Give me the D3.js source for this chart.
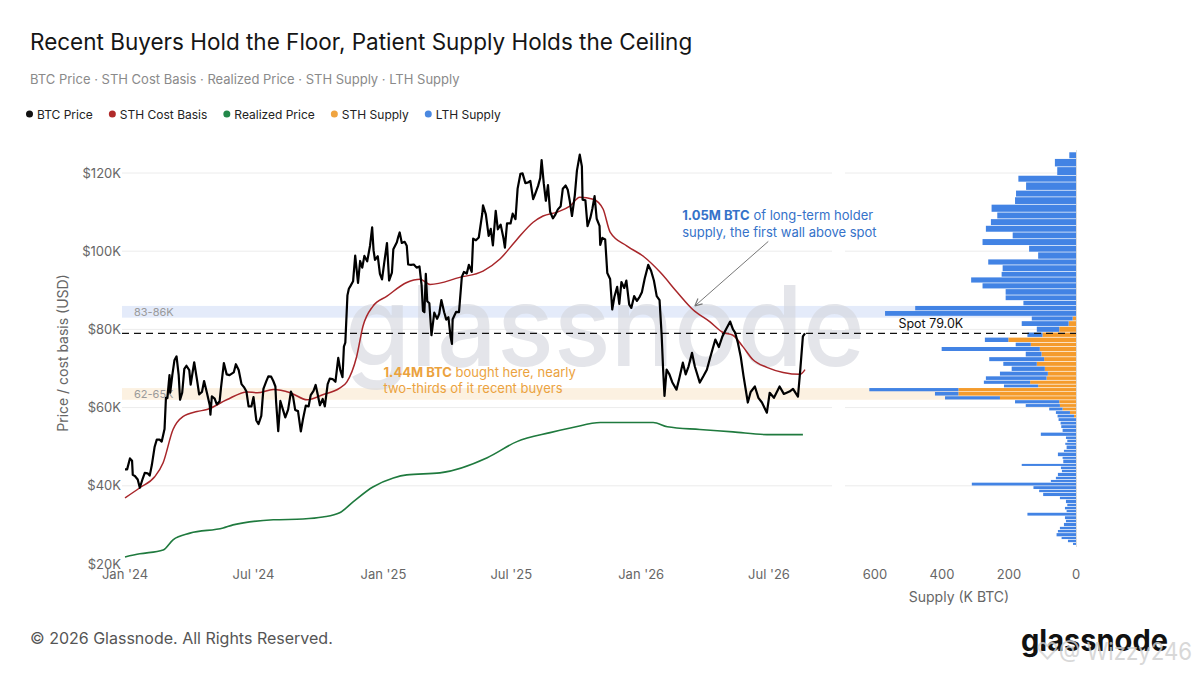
<!DOCTYPE html>
<html><head><meta charset="utf-8">
<script src="https://cdn.jsdelivr.net/npm/d3@7"></script>
<style>
body{margin:0;background:#fff;}
svg{font-family:Inter,"Noto Sans",sans-serif;}
</style>
</head><body>
<svg id="c" width="1200" height="675"></svg>
<script>
// ---------- DATA ----------
const priceDates = ["2024-01-01","2024-01-04","2024-01-08","2024-01-11","2024-01-12","2024-01-15","2024-01-19","2024-01-22","2024-01-26","2024-01-29","2024-02-02","2024-02-05","2024-02-08","2024-02-12","2024-02-15","2024-02-19","2024-02-22","2024-02-26","2024-02-28","2024-03-01","2024-03-04","2024-03-05","2024-03-08","2024-03-11","2024-03-14","2024-03-17","2024-03-19","2024-03-22","2024-03-25","2024-03-28","2024-04-01","2024-04-03","2024-04-08","2024-04-12","2024-04-15","2024-04-19","2024-04-22","2024-04-26","2024-04-30","2024-05-01","2024-05-03","2024-05-07","2024-05-10","2024-05-14","2024-05-16","2024-05-20","2024-05-24","2024-05-28","2024-06-03","2024-06-06","2024-06-10","2024-06-14","2024-06-18","2024-06-21","2024-06-24","2024-06-28","2024-07-01","2024-07-05","2024-07-08","2024-07-12","2024-07-15","2024-07-19","2024-07-22","2024-07-26","2024-07-29","2024-08-01","2024-08-02","2024-08-05","2024-08-08","2024-08-12","2024-08-15","2024-08-19","2024-08-23","2024-08-26","2024-08-29","2024-09-02","2024-09-06","2024-09-09","2024-09-13","2024-09-17","2024-09-20","2024-09-24","2024-09-27","2024-09-30","2024-10-03","2024-10-07","2024-10-10","2024-10-14","2024-10-17","2024-10-21","2024-10-25","2024-10-29","2024-11-01","2024-11-04","2024-11-06","2024-11-08","2024-11-11","2024-11-13","2024-11-15","2024-11-19","2024-11-22","2024-11-26","2024-11-29","2024-12-02","2024-12-05","2024-12-09","2024-12-13","2024-12-16","2024-12-18","2024-12-20","2024-12-24","2024-12-27","2024-12-30",
"2025-01-02","2025-01-06","2025-01-09","2025-01-13","2025-01-15","2025-01-20","2025-01-22","2025-01-24","2025-01-27","2025-01-31","2025-02-03","2025-02-05","2025-02-09","2025-02-13","2025-02-17","2025-02-21","2025-02-24","2025-02-26","2025-02-28","2025-03-02","2025-03-04","2025-03-07","2025-03-10","2025-03-14","2025-03-18","2025-03-21","2025-03-24","2025-03-28","2025-03-31","2025-04-03","2025-04-06","2025-04-08","2025-04-09","2025-04-14","2025-04-18","2025-04-22","2025-04-25","2025-04-29","2025-05-02","2025-05-06","2025-05-08","2025-05-12","2025-05-16","2025-05-21","2025-05-22","2025-05-26","2025-05-30","2025-06-02","2025-06-05","2025-06-09","2025-06-12","2025-06-16","2025-06-20","2025-06-22","2025-06-25","2025-06-30","2025-07-03","2025-07-07","2025-07-10","2025-07-14","2025-07-17","2025-07-21","2025-07-25","2025-07-28","2025-08-01","2025-08-03","2025-08-08","2025-08-11","2025-08-13","2025-08-16","2025-08-19","2025-08-22","2025-08-25","2025-08-29","2025-09-01","2025-09-05","2025-09-09","2025-09-12","2025-09-16","2025-09-19","2025-09-22","2025-09-25","2025-09-29","2025-10-02","2025-10-06","2025-10-09","2025-10-10","2025-10-14","2025-10-17","2025-10-21","2025-10-24","2025-10-27","2025-10-30","2025-11-03","2025-11-04","2025-11-07","2025-11-11","2025-11-14","2025-11-18","2025-11-21","2025-11-24","2025-11-28","2025-12-01","2025-12-04","2025-12-08","2025-12-11","2025-12-15","2025-12-18","2025-12-22","2025-12-26","2025-12-30",
"2026-01-02","2026-01-06","2026-01-11","2026-01-15","2026-01-19","2026-01-23","2026-01-27","2026-01-30","2026-02-01","2026-02-03","2026-02-06","2026-02-10","2026-02-14","2026-02-20","2026-02-24","2026-03-01","2026-03-05","2026-03-09","2026-03-14","2026-03-18","2026-03-25","2026-03-30","2026-04-04","2026-04-09","2026-04-16","2026-04-21","2026-04-26","2026-05-01","2026-05-07","2026-05-11","2026-05-14","2026-05-18","2026-05-22","2026-05-26","2026-06-01","2026-06-05","2026-06-11","2026-06-16","2026-06-21","2026-06-28","2026-07-02","2026-07-08","2026-07-16","2026-07-22","2026-07-30","2026-08-04","2026-08-11","2026-08-14","2026-08-18","2026-08-21"];
const priceValues = [44.2,44.2,47.0,46.4,42.8,42.5,41.6,39.5,41.8,43.3,43.2,42.6,45.3,50.0,51.8,51.8,51.3,54.5,62.5,62.4,68.3,63.8,68.3,72.1,73.1,68.4,62.0,63.8,69.9,70.7,69.6,65.9,71.6,67.1,63.4,64.0,66.8,63.8,60.6,58.2,62.9,62.3,60.8,61.6,65.2,71.4,68.5,68.3,69.0,71.1,69.6,66.0,65.1,64.1,60.3,60.3,62.7,56.7,55.8,57.9,64.8,66.7,68.0,67.9,66.8,65.4,61.5,54.0,61.7,59.3,57.5,59.5,64.1,62.8,59.4,59.1,53.9,57.0,60.5,60.3,63.2,64.3,65.8,63.3,60.6,62.2,60.3,66.0,67.4,67.3,66.6,72.7,69.5,67.8,75.6,76.6,88.7,90.4,91.0,92.3,98.9,91.9,97.5,95.8,98.8,97.4,101.4,106.1,100.2,97.8,98.7,94.2,92.8,
96.9,102.1,92.5,94.5,100.5,102.3,103.7,104.8,102.1,102.4,101.4,96.6,96.5,96.6,95.8,96.1,91.4,84.7,84.4,94.2,87.2,86.7,78.5,84.3,82.7,84.0,87.5,84.4,82.5,83.1,78.2,76.3,82.6,84.5,84.4,93.4,94.7,94.3,96.5,94.7,103.2,102.8,103.5,109.7,111.7,109.4,103.9,105.7,101.5,110.3,105.6,106.8,103.3,100.9,107.1,107.1,109.6,108.2,116.0,119.8,119.9,117.4,117.6,118.0,113.3,114.2,116.7,118.7,123.3,117.4,112.9,116.9,110.1,108.4,109.2,110.7,111.5,116.0,116.8,115.7,112.7,109.0,114.3,120.6,124.7,121.7,113.2,113.0,106.4,108.5,111.0,114.1,108.3,106.5,101.6,103.4,103.0,94.4,92.9,85.1,88.3,90.9,86.5,92.1,90.6,92.5,86.4,85.5,88.5,87.3,88.4,
89.5,93.0,96.5,95.0,92.5,88.5,87.5,78.5,70.0,63.0,69.7,68.5,66.5,64.6,67.5,71.5,68.5,70.5,74.0,70.5,66.4,68.0,69.7,73.0,77.4,75.5,78.2,80.0,82.0,80.0,79.2,76.5,73.0,68.0,61.3,64.0,65.4,62.5,61.3,58.7,63.8,62.5,65.4,63.5,64.1,64.8,62.8,69.0,78.2,79.0];

const sthDates = ["2024-01-01","2024-01-22","2024-02-12","2024-02-24","2024-03-09","2024-03-23","2024-04-12","2024-04-26","2024-05-24","2024-06-22","2024-07-06","2024-07-29","2024-08-22","2024-09-15","2024-10-07","2024-10-31","2024-11-10","2024-11-24","2024-12-03","2024-12-17","2025-01-06","2025-02-03","2025-02-22","2025-03-08","2025-04-19","2025-05-22","2025-06-15","2025-07-09","2025-08-01","2025-08-15","2025-09-04","2025-09-22","2025-10-06","2025-10-25","2025-11-08","2025-11-18","2025-12-12","2026-01-04","2026-01-28","2026-02-21","2026-03-15","2026-04-08","2026-04-27","2026-05-11","2026-05-25","2026-06-08","2026-06-28","2026-07-21","2026-08-14","2026-08-21"];
const sthValues = [36.9,39.5,42.3,45.9,54.4,57.7,59.0,59.5,62.0,64.0,63.8,64.6,63.8,62.0,63.3,65.0,66.5,73.0,80.8,85.9,88.5,92.0,92.8,91.5,93.3,94.9,98.0,103.0,107.4,109.0,110.0,111.5,113.8,113.3,110.8,104.9,101.3,98.7,94.6,89.5,85.1,82.0,79.2,78.5,75.6,72.3,70.3,69.0,68.5,69.7];

const realizedDates = ["2024-01-01","2024-01-22","2024-02-24","2024-03-09","2024-04-02","2024-05-19","2024-06-02","2024-07-29","2024-09-09","2024-10-07","2024-10-31","2024-11-19","2024-12-17","2025-01-15","2025-02-03","2025-03-22","2025-05-28","2025-07-09","2025-08-25","2025-09-26","2025-11-04","2025-11-22","2026-01-18","2026-02-07","2026-03-25","2026-05-11","2026-06-28","2026-08-18"];
const realizedValues = [21.8,22.6,23.6,26.2,27.9,29.2,30.0,31.3,31.5,32.0,33.1,35.9,39.7,42.0,42.8,43.3,47.2,51.3,53.6,54.9,56.2,56.2,56.2,55.1,54.4,53.8,53.1,53.1];

// supply distribution by price bin (edges in $K, supply in K BTC)
const binEdges = [125.3,123.6,121.5,119.3,117.6,115.5,113.8,111.9,109.9,108.2,106.5,104.8,103.1,101.4,99.7,97.9,96.4,94.7,93.3,91.8,90.3,88.7,87.3,86.0,84.7,83.3,82.1,80.7,79.2,77.9,76.6,75.5,74.3,72.9,71.7,70.5,69.2,68.0,66.9,65.9,65.0,64.0,62.9,61.9,60.9,60.0,59.1,58.2,57.3,56.4,55.5,54.6,53.6,52.6,51.8,51.0,50.3,49.2,48.5,47.4,46.7,45.6,44.9,44.1,43.3,42.3,41.5,40.8,39.9,39.0,38.2,37.2,36.4,35.4,34.6,33.8,33.1,32.2,31.3,30.5,29.5,28.7,27.9,26.9,26.2,25.4,24.7];
const sthSupply = [0,0,0,0,0,0,0,0,0,0,0,0,0,0,0,0,0,0,0,0,0,0,0,0,0,10,22,50,100,202,135,108,103,95,117,93,84,88,137,113,351,351,227,50,48,40,18,6,0,0,0,0,0,0,0,0,0,0,0,0,0,0,0,0,0,0,0,0,0,0,0,0,0,0,0,0,0,0,0,0,0,0,0,0,0,0];
const lthSupply = [20,63,56,172,149,179,182,252,235,254,269,189,279,140,113,262,219,222,313,279,210,210,157,480,570,122,140,67,45,70,45,293,47,164,100,99,143,181,138,102,266,70,164,132,102,40,42,49,52,46,44,40,105,30,26,32,28,36,54,40,38,162,45,42,54,60,75,311,127,110,98,48,30,26,33,28,145,33,30,36,48,54,58,43,24,9];

const yTicks = [20000,40000,60000,80000,100000,120000];
const yTickLabels = ["$20K","$40K","$60K","$80K","$100K","$120K"];
const xTicks = ["2024-01-01","2024-07-01","2025-01-01","2025-07-01","2026-01-01","2026-07-01"];
const xTickLabels = ["Jan '24","Jul '24","Jan '25","Jul '25","Jan '26","Jul '26"];
const supplyTicks = [600,400,200,0];
const bandLow = [83000,62000];
const bandHigh = [86000,65000];
const bandLabels = ["83-86K","62-65K"];
const spotPrice = 79000;
const legendNames = ["BTC Price","STH Cost Basis","Realized Price","STH Supply","LTH Supply"];
const legendColors = ["#111111","#b02a2a","#23884a","#f0a440","#4a88e0"];

// ---------- DRAW ----------
const svg = d3.select("#c");
const parse = d3.timeParse("%Y-%m-%d");
const C = {price:"#000", sth:"#a8262a", real:"#1f7a3e", orange:"#f49b2c", blue:"#4283e4"};

const x = d3.scaleTime().domain([parse("2024-01-01"), parse("2026-07-01")]).range([125, 769]);
const y = d3.scaleLinear().domain([20000, 120000]).range([564, 173]);
const hx = d3.scaleLinear().domain([0, 600]).range([1076, 875]);

// Title
svg.append("text").attr("x",30).attr("y",50).attr("font-size",22.5).attr("fill","#151515").text("Recent Buyers Hold the Floor, Patient Supply Holds the Ceiling");
svg.append("text").attr("x",30).attr("y",84).attr("font-size",13).attr("fill","#8a8a8a").text("BTC Price · STH Cost Basis · Realized Price · STH Supply · LTH Supply");

// Legend
let lx = 26;
legendNames.forEach((n,i)=>{
  svg.append("circle").attr("cx",lx+3.5).attr("cy",114).attr("r",3.5).attr("fill",legendColors[i]);
  const t = svg.append("text").attr("x",lx+11).attr("y",118.5).attr("font-size",12).attr("fill","#222").text(n);
  lx += 11 + t.node().getComputedTextLength() + 16;
});

// gridlines
const grid = svg.append("g");
yTicks.slice(1).forEach(v=>{
  grid.append("line").attr("x1",122).attr("x2",832).attr("y1",y(v)).attr("y2",y(v)).attr("stroke","#ececec");
  grid.append("line").attr("x1",845).attr("x2",1076).attr("y1",y(v)).attr("y2",y(v)).attr("stroke","#ececec");
});

// bands
const bandFill = ["#dfe8f9","#fcefdc"];
bandLow.forEach((lo,i)=>{
  svg.append("rect").attr("x",122).attr("width",1076-122).attr("y",y(bandHigh[i])).attr("height",y(lo)-y(bandHigh[i])).attr("fill",bandFill[i]).attr("opacity",0.85);
  svg.append("text").attr("x",134).attr("y",(y(lo)+y(bandHigh[i]))/2+4).attr("font-size",11).attr("fill","#9a9a9a").text(bandLabels[i]);
});

// watermark
svg.append("text").attr("x",345).attr("y",366).attr("font-size",112).attr("font-weight",500)
  .attr("textLength",520).attr("lengthAdjust","spacingAndGlyphs")
  .attr("fill","#d6d8df").attr("opacity",0.65).text("glassnode");

// histogram right axis line
svg.append("line").attr("x1",1076.5).attr("x2",1076.5).attr("y1",150).attr("y2",547).attr("stroke","#dddddd");

// histogram bars
const hb = svg.append("g");
sthSupply.forEach((s,i)=>{
  const top = y(binEdges[i]*1000), bot = y(binEdges[i+1]*1000);
  const h = Math.max(0.8, bot-top-0.7);
  const l = lthSupply[i];
  if (s>0) hb.append("rect").attr("x",hx(s)).attr("width",hx(0)-hx(s)).attr("y",top).attr("height",h).attr("fill",C.orange);
  if (l>0) hb.append("rect").attr("x",hx(s+l)).attr("width",hx(s)-hx(s+l)).attr("y",top).attr("height",h).attr("fill",C.blue);
});

// spot line
svg.append("line").attr("x1",122).attr("x2",1076).attr("y1",y(spotPrice)).attr("y2",y(spotPrice))
  .attr("stroke","#111").attr("stroke-width",1.2).attr("stroke-dasharray","7,5");
svg.append("text").attr("x",hx(530)).attr("y",y(spotPrice)-5).attr("font-size",12.5).attr("fill","#111").text("Spot " + (spotPrice/1000).toFixed(1) + "K");

// lines
const mk = (ds,vs)=>ds.map((d,i)=>({d:parse(d),v:vs[i]*1000}));
const lineSmooth = d3.line().x(p=>x(p.d)).y(p=>y(p.v)).curve(d3.curveMonotoneX);
const lineRaw = d3.line().x(p=>x(p.d)).y(p=>y(p.v));
svg.append("path").datum(mk(realizedDates,realizedValues)).attr("d",lineSmooth).attr("fill","none").attr("stroke",C.real).attr("stroke-width",1.6);
svg.append("path").datum(mk(sthDates,sthValues)).attr("d",lineSmooth).attr("fill","none").attr("stroke",C.sth).attr("stroke-width",1.5);
svg.append("path").datum(mk(priceDates,priceValues)).attr("d",lineRaw).attr("fill","none").attr("stroke",C.price).attr("stroke-width",2.2).attr("stroke-linejoin","round");

// y axis labels
yTicks.forEach((v,i)=>{
  svg.append("text").attr("x",121).attr("y",y(v)+4.5).attr("text-anchor","end").attr("font-size",13).attr("fill","#666").text(yTickLabels[i]);
});
svg.append("text").attr("transform","translate(68,353) rotate(-90)").attr("text-anchor","middle").attr("font-size",14).attr("fill","#666").text("Price / cost basis (USD)");

// x axis labels
xTicks.forEach((d,i)=>{
  svg.append("text").attr("x",x(parse(d))).attr("y",579).attr("text-anchor","middle").attr("font-size",13).attr("fill","#666").text(xTickLabels[i]);
});
supplyTicks.forEach(v=>{
  svg.append("text").attr("x",hx(v)).attr("y",579).attr("text-anchor","middle").attr("font-size",13).attr("fill","#666").text(v);
});
svg.append("text").attr("x",959).attr("y",602).attr("text-anchor","middle").attr("font-size",14).attr("fill","#666").text("Supply (K BTC)");

// annotations
const blueNoteX = x(parse("2026-02-28"));
const t1 = svg.append("text").attr("x",blueNoteX).attr("y",y(108000)).attr("font-size",13).attr("fill","#3572c9");
t1.append("tspan").attr("font-weight",700).text("1.05M BTC");
t1.append("tspan").text(" of long-term holder");
svg.append("text").attr("x",blueNoteX).attr("y",y(103600)).attr("font-size",13).attr("fill","#3572c9").text("supply, the first wall above spot");
// arrow
const ax1 = x(parse("2026-06-30")), ay1 = y(102500), ax2 = x(parse("2026-03-18")), ay2 = y(86000);
svg.append("line").attr("x1",ax1).attr("y1",ay1).attr("x2",ax2).attr("y2",ay2).attr("stroke","#777").attr("stroke-width",1);
const ang = Math.atan2(ay2-ay1, ax2-ax1);
const ah = 8, aw = 0.45;
svg.append("path").attr("d",`M${ax2},${ay2} L${ax2-ah*Math.cos(ang-aw)},${ay2-ah*Math.sin(ang-aw)} M${ax2},${ay2} L${ax2-ah*Math.cos(ang+aw)},${ay2-ah*Math.sin(ang+aw)}`)
  .attr("stroke","#777").attr("stroke-width",1.2).attr("fill","none");

const orangeNoteX = x(parse("2025-01-01"));
const t2 = svg.append("text").attr("x",orangeNoteX).attr("y",y(69000)+4.5).attr("font-size",13).attr("fill","#eba23e");
t2.append("tspan").attr("font-weight",700).text("1.44M BTC");
t2.append("tspan").text(" bought here, nearly");
svg.append("text").attr("x",orangeNoteX).attr("y",y(64900)+4.5).attr("font-size",13).attr("fill","#eba23e").text("two-thirds of it recent buyers");

// footer
svg.append("text").attr("x",30).attr("y",644).attr("font-size",16).attr("fill","#555").text("© 2026 Glassnode. All Rights Reserved.");
svg.append("text").attr("x",1021).attr("y",651).attr("font-size",30).attr("font-weight",700).attr("textLength",147).attr("lengthAdjust","spacingAndGlyphs").attr("fill","#111").text("glassnode");
svg.append("text").attr("x",1036).attr("y",660).attr("font-size",24).attr("textLength",156).attr("lengthAdjust","spacingAndGlyphs").attr("fill","#cfcfcf").attr("opacity",0.8).text("♡@ Wizzy246");
</script>
</body></html>
